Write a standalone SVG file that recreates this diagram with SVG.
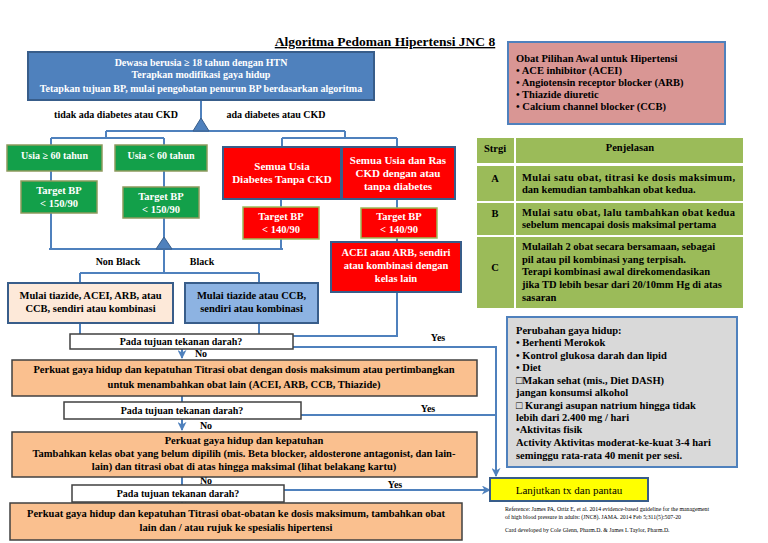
<svg xmlns="http://www.w3.org/2000/svg" width="768" height="543" viewBox="0 0 768 543" font-family="'Liberation Serif', 'Times New Roman', serif">
<defs>
<marker id="ah" viewBox="0 0 10 10" refX="9" refY="5" markerWidth="4.5" markerHeight="4.5" orient="auto" markerUnits="strokeWidth">
<path d="M0,0 L10,5 L0,10 L3,5 Z" fill="#4f81bd"/>
</marker>
<style>
text{font-family:'Liberation Serif','Times New Roman',serif;font-weight:bold;fill:#000}
.c{text-anchor:middle}
.w{fill:#fff}
.s10{font-size:10px}
.s105{font-size:10.5px}
.s11{font-size:11px}
.blue{fill:#4f81bd;stroke:#385d8a;stroke-width:2}
.grn{fill:#13a04a;stroke:#8f9a5e;stroke-width:1.5}
.red{fill:#ff0000;stroke:#385d8a;stroke-width:2}
.redg{fill:#ff0000;stroke:#9bbb59;stroke-width:1.5}
.org{fill:#fac08f;stroke:#404040;stroke-width:1.5}
.wht{fill:#fff;stroke:#404040;stroke-width:1.5}
.tbl{fill:#9bbb59}
.ln{fill:none;stroke:#4f81bd;stroke-width:2}
</style>
</defs>
<rect width="768" height="543" fill="#fff"/>

<text x="385" y="46" class="c" style="font-size:13.5px;text-decoration:underline">Algoritma Pedoman Hipertensi JNC 8</text>

<g id="connectors">
<path class="ln" d="M201,100 V120"/>
<path class="ln" d="M106,131 H345"/>
<path class="ln" d="M106,131 V138 M51,138 H164 M51,138 V145 M164,138 V145"/>
<path class="ln" d="M345,131 V138 M282,138 H397 M282,138 V147 M397,138 V147"/>
<path class="ln" d="M51,171 V181 M51,213 V250 M164,171 V187 M164,218 V240"/>
<path class="ln" d="M281,199 V207 M281,239 V249 M397,199 V208 M397,238 V242"/>
<path class="ln" d="M49,249 H283"/>
<path class="ln" d="M164,249 V273 M80,273 H259 M80,273 V283 M259,273 V283"/>
<path class="ln" d="M80,323 V334 M259,323 V334"/>
<path class="ln" d="M397,292 V336 H293"/>
<path class="ln" d="M293,347 H496 V476" marker-end="url(#ah)"/>
<path class="ln" d="M301,415 H496"/>
<path class="ln" d="M284,490 H490" marker-end="url(#ah)"/>
<path class="ln" d="M182,349 V358" marker-end="url(#ah)"/>
<path class="ln" d="M182,396 V402"/>
<path class="ln" d="M182,419 V430" marker-end="url(#ah)"/>
<path class="ln" d="M182,477 V485"/>
<path class="ln" d="M182,502 V510" marker-end="url(#ah)"/>
<polygon points="201,118 193,131 209,131" fill="#4f81bd" stroke="#385d8a" stroke-width="1"/>
<polygon points="164,237 156,249 172,249" fill="#4f81bd" stroke="#385d8a" stroke-width="1"/>
</g>

<g id="labels">
<text x="116" y="118" class="c s10">tidak ada diabetes atau CKD</text>
<text x="276" y="118" class="c s10">ada diabetes atau CKD</text>
<text x="118" y="265" class="c s10">Non Black</text>
<text x="202" y="265" class="c s10">Black</text>
<text x="438" y="341" class="c s10">Yes</text>
<text x="201" y="357" class="c s10">No</text>
<text x="428" y="412" class="c s10">Yes</text>
<text x="206" y="429" class="c s10">No</text>
<text x="206" y="484" class="c s10">No</text>
<text x="395" y="488" class="c s10">Yes</text>
</g>

<g id="start">
<rect x="28" y="52" width="346" height="48" class="blue"/>
<text x="201" y="66" class="c s10 w">Dewasa berusia ≥ 18 tahun dengan HTN</text>
<text x="201" y="78" class="c s10 w">Terapkan modifikasi gaya hidup</text>
<text x="201" y="92" class="c s10 w">Tetapkan tujuan BP, mulai pengobatan penurun BP berdasarkan algoritma</text>
</g>

<g id="obat-pilihan">
<rect x="508" y="42" width="217" height="82" fill="#d99694" stroke="#4f81bd" stroke-width="2"/>
<text x="516" y="62" class="s105">Obat Pilihan Awal untuk Hipertensi</text>
<text x="516" y="74" class="s105">• ACE inhibitor (ACEI)</text>
<text x="516" y="86" class="s105">• Angiotensin receptor blocker (ARB)</text>
<text x="516" y="98" class="s105">• Thiazide diuretic</text>
<text x="516" y="110" class="s105">• Calcium channel blocker (CCB)</text>
</g>

<g id="usia60">
<rect x="7" y="145" width="95" height="26" class="grn"/>
<text x="54.5" y="159" class="c s10 w">Usia ≥ 60 tahun</text>
</g>
<g id="usia-lt60">
<rect x="115" y="145" width="92" height="26" class="grn"/>
<text x="161" y="159" class="c s10 w">Usia &lt; 60 tahun</text>
</g>
<g id="target-150a">
<rect x="21" y="181" width="76" height="32" class="grn"/>
<text x="59" y="194" class="c s105 w">Target BP</text>
<text x="59" y="207" class="c s105 w">&lt; 150/90</text>
</g>
<g id="target-150b">
<rect x="123" y="187" width="76" height="31" class="grn"/>
<text x="161" y="200" class="c s105 w">Target BP</text>
<text x="161" y="213" class="c s105 w">&lt; 150/90</text>
</g>

<g id="diabetes">
<rect x="223" y="147" width="118" height="52" class="red"/>
<text x="282" y="170" class="c s11 w">Semua Usia</text>
<text x="282" y="183" class="c s11 w">Diabetes Tanpa CKD</text>
</g>
<g id="ckd">
<rect x="342" y="147" width="113" height="52" class="red"/>
<text x="398" y="164" class="c s11 w">Semua Usia dan Ras</text>
<text x="398" y="177" class="c s11 w">CKD dengan atau</text>
<text x="398" y="190" class="c s11 w">tanpa diabetes</text>
</g>
<g id="target-140a">
<rect x="243" y="207" width="76" height="32" class="redg"/>
<text x="281" y="220" class="c s105 w">Target BP</text>
<text x="281" y="233" class="c s105 w">&lt; 140/90</text>
</g>
<g id="target-140b">
<rect x="361" y="208" width="76" height="30" class="redg"/>
<text x="399" y="220" class="c s105 w">Target BP</text>
<text x="399" y="233" class="c s105 w">&lt; 140/90</text>
</g>
<g id="acei-arb">
<rect x="331" y="242" width="130" height="50" class="red"/>
<text x="396" y="256" class="c s105 w">ACEI atau ARB, sendiri</text>
<text x="396" y="269" class="c s105 w">atau kombinasi dengan</text>
<text x="396" y="282" class="c s105 w">kelas lain</text>
</g>

<g id="strategi-table">
<rect x="477" y="138" width="37" height="25" class="tbl"/>
<rect x="516" y="138" width="227" height="25" class="tbl"/>
<rect x="477" y="166" width="37" height="35" class="tbl"/>
<rect x="516" y="166" width="227" height="35" class="tbl"/>
<rect x="477" y="203" width="37" height="32" class="tbl"/>
<rect x="516" y="203" width="227" height="32" class="tbl"/>
<rect x="477" y="237" width="37" height="71" class="tbl"/>
<rect x="516" y="237" width="227" height="71" class="tbl"/>
<text x="495" y="152" class="c s105">Strgi</text>
<text x="630" y="151" class="c s105">Penjelasan</text>
<text x="495" y="182" class="c s105">A</text>
<text x="522" y="181" class="s105" textLength="213" lengthAdjust="spacing">Mulai satu obat, titrasi ke dosis maksimum,</text>
<text x="522" y="193" class="s105">dan kemudian tambahkan obat kedua.</text>
<text x="495" y="217" class="c s105">B</text>
<text x="522" y="216" class="s105" textLength="213" lengthAdjust="spacing">Mulai satu obat, lalu tambahkan obat kedua</text>
<text x="522" y="228" class="s105">sebelum mencapai dosis maksimal pertama</text>
<text x="495" y="271" class="c s105">C</text>
<text x="522" y="250" class="s105">Mulailah 2 obat secara bersamaan, sebagai</text>
<text x="522" y="263" class="s105">pil atau pil kombinasi yang terpisah.</text>
<text x="522" y="275" class="s105">Terapi kombinasi awal direkomendasikan</text>
<text x="522" y="288" class="s105">jika TD lebih besar dari 20/10mm Hg di atas</text>
<text x="522" y="301" class="s105">sasaran</text>
</g>

<g id="nonblack">
<rect x="8" y="283" width="165" height="40" fill="#fde9d9" stroke="#385d8a" stroke-width="2"/>
<text x="90.5" y="299" class="c s105">Mulai tiazide, ACEI, ARB, atau</text>
<text x="90.5" y="312" class="c s105">CCB, sendiri atau kombinasi</text>
</g>
<g id="black">
<rect x="185" y="283" width="133" height="40" fill="#8db3e2" stroke="#385d8a" stroke-width="2"/>
<text x="251.5" y="299" class="c s105">Mulai tiazide atau CCB,</text>
<text x="251.5" y="312" class="c s105">sendiri atau kombinasi</text>
</g>

<g id="tujuan1">
<rect x="70" y="334" width="223" height="15" class="wht"/>
<text x="181" y="345" class="c s10">Pada tujuan tekanan darah?</text>
</g>
<g id="perkuat1">
<rect x="12" y="360" width="465" height="36" class="org"/>
<text x="244" y="373" class="c s105">Perkuat gaya hidup dan kepatuhan Titrasi obat dengan dosis maksimum atau pertimbangkan</text>
<text x="244" y="388" class="c s105">untuk menambahkan obat lain (ACEI, ARB, CCB, Thiazide)</text>
</g>
<g id="tujuan2">
<rect x="64" y="402" width="237" height="17" class="wht"/>
<text x="182" y="414" class="c s10">Pada tujuan tekanan darah?</text>
</g>
<g id="perkuat2">
<rect x="12" y="432" width="465" height="45" class="org"/>
<text x="244" y="444" class="c s105">Perkuat gaya hidup dan kepatuhan</text>
<text x="244" y="457" class="c s105">Tambahkan kelas obat yang belum dipilih (mis. Beta blocker, aldosterone antagonist, dan lain-</text>
<text x="244" y="470" class="c s105">lain) dan titrasi obat di atas hingga maksimal (lihat belakang kartu)</text>
</g>
<g id="tujuan3">
<rect x="72" y="485" width="212" height="17" class="wht"/>
<text x="178" y="497" class="c s10">Pada tujuan tekanan darah?</text>
</g>
<g id="perkuat3">
<rect x="10" y="503" width="452" height="37" class="org"/>
<text x="236" y="517" class="c s105">Perkuat gaya hidup dan kepatuhan Titrasi obat-obatan ke dosis maksimum, tambahkan obat</text>
<text x="236" y="531" class="c s105">lain dan / atau rujuk ke spesialis hipertensi</text>
</g>

<g id="gaya-hidup">
<rect x="507" y="317" width="230" height="150" fill="#d9d9d9" stroke="#4f81bd" stroke-width="2"/>
<text x="516" y="334" class="s105">Perubahan gaya hidup:</text>
<text x="516" y="346" class="s105">• Berhenti Merokok</text>
<text x="516" y="359" class="s105">• Kontrol glukosa darah dan lipid</text>
<text x="516" y="371" class="s105">• Diet</text>
<text x="516" y="384" class="s105">□Makan sehat (mis., Diet DASH)</text>
<text x="516" y="396" class="s105">jangan konsumsi alkohol</text>
<text x="516" y="409" class="s105">□ Kurangi asupan natrium hingga tidak</text>
<text x="516" y="421" class="s105">lebih dari 2.400 mg / hari</text>
<text x="516" y="433" class="s105">•Aktivitas fisik</text>
<text x="516" y="446" class="s105">Activity Aktivitas moderat-ke-kuat 3-4 hari</text>
<text x="516" y="459" class="s105">seminggu rata-rata 40 menit per sesi.</text>
</g>

<g id="lanjutkan">
<rect x="490" y="478" width="158" height="23" fill="#ffff00" stroke="#385d8a" stroke-width="2"/>
<text x="569" y="494" class="c s11" style="font-weight:normal">Lanjutkan tx dan pantau</text>
</g>

<g id="reference" style="font-size:5.8px">
<text x="505" y="511" style="font-weight:normal">Reference: James PA, Ortiz E, et al. 2014 evidence-based guideline for the management</text>
<text x="505" y="519" style="font-weight:normal">of high blood pressure in adults: (JNC8). JAMA. 2014 Feb 5;311(5):507-20</text>
<text x="505" y="532" style="font-weight:normal">Card developed by Cole Glenn, Pharm.D. &amp; James L Taylor, Pharm.D.</text>
</g>
</svg>
